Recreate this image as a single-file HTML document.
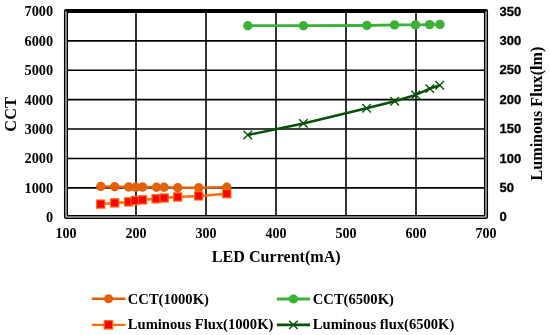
<!DOCTYPE html>
<html><head><meta charset="utf-8"><style>
html,body{margin:0;padding:0;background:#fff;}
body{width:550px;height:335px;overflow:hidden;}
svg{display:block;}
.ls{font-family:"Liberation Serif",serif;font-weight:bold;font-size:14px;fill:#000;}
.rs{font-family:"Liberation Sans",sans-serif;font-weight:bold;font-size:13px;fill:#000;stroke:#000;stroke-width:0.3px;}
.tt{font-family:"Liberation Serif",serif;font-weight:bold;font-size:16.1px;fill:#000;}
.lg{font-family:"Liberation Serif",serif;font-weight:bold;font-size:14.6px;fill:#000;}
</style></head><body>
<svg width="550" height="335" viewBox="0 0 550 335">
<line x1="67" y1="187.85" x2="485" y2="187.85" stroke="#000" stroke-width="1.6"/>
<line x1="67" y1="158.45" x2="485" y2="158.45" stroke="#000" stroke-width="1.6"/>
<line x1="67" y1="129.05" x2="485" y2="129.05" stroke="#000" stroke-width="1.6"/>
<line x1="67" y1="99.65" x2="485" y2="99.65" stroke="#000" stroke-width="1.6"/>
<line x1="67" y1="70.25" x2="485" y2="70.25" stroke="#000" stroke-width="1.6"/>
<line x1="67" y1="40.85" x2="485" y2="40.85" stroke="#000" stroke-width="1.6"/>
<line x1="136.00" y1="12" x2="136.00" y2="216" stroke="#000" stroke-width="1.6"/>
<line x1="206.00" y1="12" x2="206.00" y2="216" stroke="#000" stroke-width="1.6"/>
<line x1="276.00" y1="12" x2="276.00" y2="216" stroke="#000" stroke-width="1.6"/>
<line x1="346.00" y1="12" x2="346.00" y2="216" stroke="#000" stroke-width="1.6"/>
<line x1="416.00" y1="12" x2="416.00" y2="216" stroke="#000" stroke-width="1.6"/>
<path d="M66,11 V217 H486 V11 Z" fill="none" stroke="#000" stroke-width="4.1" stroke-linejoin="round"/>
<path d="M66,11 V217 H486 V11" fill="none" stroke="#a9a9a9" stroke-width="1.6" stroke-linejoin="round"/>
<line x1="66" y1="11" x2="486" y2="11" stroke="#000" stroke-width="2"/>
<polyline points="100.8,186.5 114.7,186.8 128.6,187.0 135.8,187.2 142.6,187.0 156.5,187.2 164.1,187.2 177.7,187.7 198.7,187.7 226.8,187.2" fill="none" stroke="#E35F0A" stroke-width="2.5"/>
<circle cx="100.8" cy="186.5" r="4.7" fill="#E35F0A"/>
<circle cx="114.7" cy="186.8" r="4.7" fill="#E35F0A"/>
<circle cx="128.6" cy="187.0" r="4.7" fill="#E35F0A"/>
<circle cx="135.8" cy="187.2" r="4.7" fill="#E35F0A"/>
<circle cx="142.6" cy="187.0" r="4.7" fill="#E35F0A"/>
<circle cx="156.5" cy="187.2" r="4.7" fill="#E35F0A"/>
<circle cx="164.1" cy="187.2" r="4.7" fill="#E35F0A"/>
<circle cx="177.7" cy="187.7" r="4.7" fill="#E35F0A"/>
<circle cx="198.7" cy="187.7" r="4.7" fill="#E35F0A"/>
<circle cx="226.8" cy="187.2" r="4.7" fill="#E35F0A"/>
<polyline points="100.7,204.1 114.7,202.9 128.6,201.9 135.2,200.5 142.6,199.9 156.1,198.8 164.1,198.0 177.7,197.0 198.7,195.9 226.8,193.7" fill="none" stroke="#FF6C08" stroke-width="2.5"/>
<rect x="96.6" y="200.0" width="8.2" height="8.2" fill="#FF0000" stroke="#FF6C08" stroke-width="1.2"/>
<rect x="110.6" y="198.8" width="8.2" height="8.2" fill="#FF0000" stroke="#FF6C08" stroke-width="1.2"/>
<rect x="124.5" y="197.8" width="8.2" height="8.2" fill="#FF0000" stroke="#FF6C08" stroke-width="1.2"/>
<rect x="131.1" y="196.4" width="8.2" height="8.2" fill="#FF0000" stroke="#FF6C08" stroke-width="1.2"/>
<rect x="138.5" y="195.8" width="8.2" height="8.2" fill="#FF0000" stroke="#FF6C08" stroke-width="1.2"/>
<rect x="152.0" y="194.7" width="8.2" height="8.2" fill="#FF0000" stroke="#FF6C08" stroke-width="1.2"/>
<rect x="160.0" y="193.9" width="8.2" height="8.2" fill="#FF0000" stroke="#FF6C08" stroke-width="1.2"/>
<rect x="173.6" y="192.9" width="8.2" height="8.2" fill="#FF0000" stroke="#FF6C08" stroke-width="1.2"/>
<rect x="194.6" y="191.8" width="8.2" height="8.2" fill="#FF0000" stroke="#FF6C08" stroke-width="1.2"/>
<rect x="222.7" y="189.6" width="8.2" height="8.2" fill="#FF0000" stroke="#FF6C08" stroke-width="1.2"/>
<polyline points="247.8,25.7 303.4,25.7 366.9,25.5 394.5,24.9 415.5,24.9 429.6,24.6 440.0,24.4" fill="none" stroke="#3AB236" stroke-width="2.8"/>
<circle cx="247.8" cy="25.7" r="4.7" fill="#3AB236"/>
<circle cx="303.4" cy="25.7" r="4.7" fill="#3AB236"/>
<circle cx="366.9" cy="25.5" r="4.7" fill="#3AB236"/>
<circle cx="394.5" cy="24.9" r="4.7" fill="#3AB236"/>
<circle cx="415.5" cy="24.9" r="4.7" fill="#3AB236"/>
<circle cx="429.6" cy="24.6" r="4.7" fill="#3AB236"/>
<circle cx="440.0" cy="24.4" r="4.7" fill="#3AB236"/>
<polyline points="247.8,135.0 303.4,123.4 366.6,108.2 394.7,101.3 415.7,94.9 429.8,88.6 439.7,85.3" fill="none" stroke="#045206" stroke-width="2.6"/>
<path d="M243.5,130.8L252.1,139.2M243.5,139.2L252.1,130.8" stroke="#045206" stroke-width="1.4"/>
<path d="M299.1,119.2L307.7,127.6M299.1,127.6L307.7,119.2" stroke="#045206" stroke-width="1.4"/>
<path d="M362.3,104.0L370.9,112.4M362.3,112.4L370.9,104.0" stroke="#045206" stroke-width="1.4"/>
<path d="M390.4,97.1L399.0,105.5M390.4,105.5L399.0,97.1" stroke="#045206" stroke-width="1.4"/>
<path d="M411.4,90.7L420.0,99.1M411.4,99.1L420.0,90.7" stroke="#045206" stroke-width="1.4"/>
<path d="M425.5,84.4L434.1,92.8M425.5,92.8L434.1,84.4" stroke="#045206" stroke-width="1.4"/>
<path d="M435.4,81.1L444.0,89.5M435.4,89.5L444.0,81.1" stroke="#045206" stroke-width="1.4"/>
<text x="53.1" y="222.20" class="ls" style="font-size:14.3px" text-anchor="end">0</text>
<text x="53.1" y="192.80" class="ls" style="font-size:14.3px" text-anchor="end">1000</text>
<text x="53.1" y="163.40" class="ls" style="font-size:14.3px" text-anchor="end">2000</text>
<text x="53.1" y="134.00" class="ls" style="font-size:14.3px" text-anchor="end">3000</text>
<text x="53.1" y="104.60" class="ls" style="font-size:14.3px" text-anchor="end">4000</text>
<text x="53.1" y="75.20" class="ls" style="font-size:14.3px" text-anchor="end">5000</text>
<text x="53.1" y="45.80" class="ls" style="font-size:14.3px" text-anchor="end">6000</text>
<text x="53.1" y="16.40" class="ls" style="font-size:14.3px" text-anchor="end">7000</text>
<text x="499.5" y="221.40" class="rs">0</text>
<text x="499.5" y="192.00" class="rs">50</text>
<text x="499.5" y="162.60" class="rs">100</text>
<text x="499.5" y="133.20" class="rs">150</text>
<text x="499.5" y="103.80" class="rs">200</text>
<text x="499.5" y="74.40" class="rs">250</text>
<text x="499.5" y="45.00" class="rs">300</text>
<text x="499.5" y="15.60" class="rs">350</text>
<text x="66.00" y="238.1" class="ls" text-anchor="middle">100</text>
<text x="136.00" y="238.1" class="ls" text-anchor="middle">200</text>
<text x="206.00" y="238.1" class="ls" text-anchor="middle">300</text>
<text x="276.00" y="238.1" class="ls" text-anchor="middle">400</text>
<text x="346.00" y="238.1" class="ls" text-anchor="middle">500</text>
<text x="416.00" y="238.1" class="ls" text-anchor="middle">600</text>
<text x="486.00" y="238.1" class="ls" text-anchor="middle">700</text>
<text x="276.3" y="261.9" class="tt" text-anchor="middle">LED Current(mA)</text>
<text transform="translate(15.7,114.4) rotate(-90)" class="tt" style="font-size:16.4px" text-anchor="middle">CCT</text>
<text transform="translate(542.1,113.6) rotate(-90)" class="tt" text-anchor="middle">Luminous Flux(lm)</text>
<line x1="91.8" y1="298.8" x2="125.6" y2="298.8" stroke="#E35F0A" stroke-width="2.5"/>
<circle cx="108.5" cy="298.8" r="4.5" fill="#E35F0A"/>
<text x="127.8" y="303.8" class="lg">CCT(1000K)</text>
<line x1="91.8" y1="324.8" x2="125.6" y2="324.8" stroke="#FF6C08" stroke-width="2.2"/>
<rect x="104.3" y="320.6" width="8.4" height="8.4" fill="#FF0000" stroke="#FF6C08" stroke-width="1.2"/>
<text x="127.8" y="329.4" class="lg">Luminous Flux(1000K)</text>
<line x1="276.9" y1="299.0" x2="310" y2="299.0" stroke="#3AB236" stroke-width="2.8"/>
<circle cx="293.4" cy="299.0" r="4.6" fill="#3AB236"/>
<text x="312.8" y="303.8" class="lg">CCT(6500K)</text>
<line x1="276.9" y1="324.9" x2="310" y2="324.9" stroke="#045206" stroke-width="2.8"/>
<path d="M289.1,320.7L297.7,329.1M289.1,329.1L297.7,320.7" stroke="#045206" stroke-width="1.4"/>
<text x="312.8" y="329.3" class="lg">Luminous flux(6500K)</text>
</svg>
</body></html>
